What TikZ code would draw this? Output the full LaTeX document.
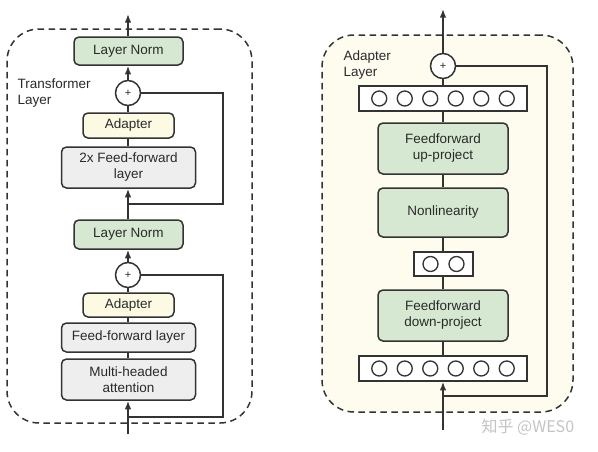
\documentclass[tikz,border=0pt]{standalone}
\usepackage{fontspec}
\setmainfont{Liberation Sans}
\newfontfamily\cjk{Noto Sans CJK SC}
\usetikzlibrary{arrows.meta}
\definecolor{lnc}{HTML}{333333}
\definecolor{grn}{HTML}{D6E8D2}
\definecolor{ylw}{HTML}{FCFAE3}
\definecolor{gry}{HTML}{EEEEEE}
\definecolor{bgy}{HTML}{FDFCEF}
\definecolor{wm}{HTML}{C4C4C4}
\definecolor{txt}{HTML}{2A2A2A}
\tikzset{
  every node/.style={font=\fontsize{13.5}{16}\selectfont, text=txt},
  box/.style={draw=lnc, line width=1.5pt, rounded corners=5pt, inner sep=0pt, align=center},
  gbox/.style={box, fill=grn},
  ybox/.style={box, fill=ylw},
  fbox/.style={box, fill=gry},
  nbox/.style={draw=lnc, line width=1.5pt, fill=white, inner sep=0pt},
  neuron/.style={draw=lnc, line width=1.3pt, circle, minimum size=15pt, inner sep=0pt, fill=white},
  plusc/.style={draw=lnc, line width=1.5pt, circle, minimum size=25pt, inner sep=0pt, fill=white, font=\fontsize{11}{11}\selectfont},
  frame/.style={draw=lnc, line width=1.5pt, dash pattern=on 6.5pt off 4.5pt, rounded corners=32pt, inner sep=0pt},
  conn/.style={draw=lnc, line width=1.6pt},
  arr/.style={conn, -{Latex[length=8.5pt,width=6.5pt]}},
  lbl/.style={align=left, anchor=west, font=\fontsize{13.5}{16}\selectfont},
}
\begin{document}
\begin{tikzpicture}[x=1pt, y=-1pt]
\useasboundingbox (0,0) rectangle (598,451);
\fill[white] (0,0) rectangle (598,451);

% ---------------- Left: Transformer layer ----------------
\node[frame, minimum width=245pt, minimum height=394pt] (frameL) at (129.5,226) {};
\node[lbl] (tlab) at (14,93) {Transformer\\Layer};

\node[gbox, minimum width=109pt, minimum height=28pt] (ln1) at (128.5,51) {Layer Norm};
\node[plusc] (plus1) at (128,93) {+};
\node[ybox, minimum width=91pt, minimum height=25pt] (ad1) at (128.5,125.5) {Adapter};
\node[fbox, minimum width=134pt, minimum height=41pt] (ff2) at (128.5,167.5) {2x Feed-forward\\layer};
\node[gbox, minimum width=109pt, minimum height=29pt] (ln2) at (128.5,234.5) {Layer Norm};
\node[plusc] (plus2) at (128,275) {+};
\node[ybox, minimum width=91pt, minimum height=24pt] (ad2) at (128.5,305) {Adapter};
\node[fbox, minimum width=134pt, minimum height=29pt] (ff1) at (128.5,337.5) {Feed-forward layer};
\node[fbox, minimum width=134pt, minimum height=41pt] (mha) at (128.5,379.5) {Multi-headed\\attention};

\coordinate (topL) at (128,14);
\coordinate (inL) at (128,434);
\coordinate (s1) at (223,204);
\coordinate (s2) at (223,417);

\draw[arr] (ln1.north -| plus1) -- (topL);
\draw[arr] (plus1.north) -- (ln1.south -| plus1);
\draw[conn] (ad1.north -| plus1) -- (plus1.south);
\draw[conn] (ff2.north -| plus1) -- (ad1.south -| plus1);
\draw[arr] (ln2.north -| plus1) -- (ff2.south -| plus1);
\draw[conn] (plus1.east) -| (s1) -- (s1 -| plus1);
\draw[arr] (plus2.north) -- (ln2.south -| plus2);
\draw[conn] (ad2.north -| plus2) -- (plus2.south);
\draw[conn] (ff1.north -| plus2) -- (ad2.south -| plus2);
\draw[conn] (mha.north -| plus2) -- (ff1.south -| plus2);
\draw[arr] (inL) -- (mha.south -| plus2);
\draw[conn] (plus2.east) -| (s2) -- (s2 -| plus2);

% ---------------- Right: Adapter layer ----------------
\node[frame, fill=bgy, minimum width=251pt, minimum height=377pt] (frameR) at (447.5,223.5) {};
\node[lbl] (alab) at (340,65) {Adapter\\Layer};

\node[plusc] (plusR) at (443,66) {+};
\node[nbox, minimum width=168pt, minimum height=25pt] (ntop) at (443,98.5) {};
\foreach \i in {1,...,6} {
  \node[neuron] (tc\i) at ({443+(\i-3.5)*25.5},98.5) {};
}
\node[gbox, minimum width=130pt, minimum height=51pt] (upP) at (443,148.5) {Feedforward\\up-project};
\node[gbox, minimum width=130pt, minimum height=49pt] (nonlin) at (443,212.5) {Nonlinearity};
\node[nbox, minimum width=59pt, minimum height=24pt] (nmid) at (443.5,264) {};
\node[neuron] (mc1) at (430.5,264) {};
\node[neuron] (mc2) at (456.5,264) {};
\node[gbox, minimum width=130pt, minimum height=51pt] (downP) at (443,315.5) {Feedforward\\down-project};
\node[nbox, minimum width=168pt, minimum height=25pt] (nbot) at (443,368.5) {};
\foreach \i in {1,...,6} {
  \node[neuron] (bc\i) at ({443+(\i-3.5)*25.5},368.5) {};
}

\coordinate (topR) at (443,9);
\coordinate (inR) at (443,430);
\coordinate (sR) at (547,396);

\draw[arr] (plusR.north) -- (topR);
\draw[conn] (ntop.north -| plusR) -- (plusR.south);
\draw[conn] (upP.north -| plusR) -- (ntop.south -| plusR);
\draw[conn] (nonlin.north -| plusR) -- (upP.south -| plusR);
\draw[conn] (nmid.north -| plusR) -- (nonlin.south -| plusR);
\draw[conn] (downP.north -| plusR) -- (nmid.south -| plusR);
\draw[conn] (nbot.north -| plusR) -- (downP.south -| plusR);
\draw[arr] (inR) -- (nbot.south -| plusR);
\draw[conn] (plusR.east) -| (sR) -- (sR -| plusR);

% watermark
\node[font=\fontsize{16}{16}\selectfont, text=wm, anchor=west] (wmk) at (478,427) {\cjk 知乎 @WES0};
\end{tikzpicture}
\end{document}
